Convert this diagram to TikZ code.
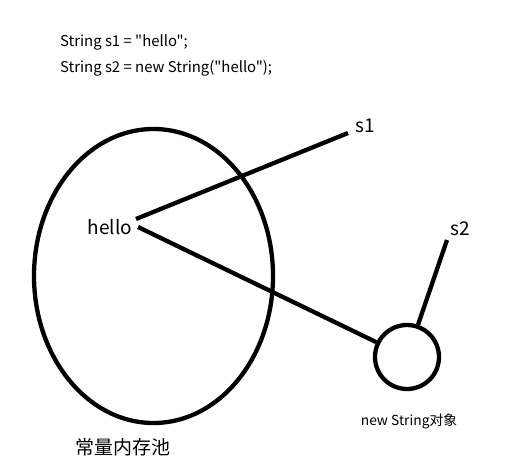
\documentclass[tikz,border=0pt]{standalone}
\usepackage{fontspec}
\setmainfont{Noto Sans CJK SC}
\newfontfamily\codefont{Noto Sans CJK SC}
\usetikzlibrary{shapes.geometric}
\begin{document}
\begin{tikzpicture}[x=1pt,y=-1pt,
  thickline/.style={line width=4.3pt},
  code/.style={anchor=west,inner sep=0pt,font=\codefont\fontsize{14.9}{16}\selectfont},
  lbl/.style={inner sep=0pt,font=\fontsize{19}{22}\selectfont}]
\useasboundingbox[fill=white] (0,0) rectangle (522,473);
\node[code] (c1) at (60,42) {String s1 = "hello";};
\node[code] (c2) at (60,68) {String s2 = new String("hello");};
\node[draw,thickline,ellipse,minimum width=239pt,minimum height=294pt,inner sep=0pt] (pool) at (153.5,276) {};
\node[draw,thickline,circle,minimum size=64pt,inner sep=0pt] (obj) at (407,357) {};
\node[lbl] (hello) at (110,227) {hello};
\node[lbl] (s1) at (365,126) {s1};
\node[lbl] (s2) at (460,229) {s2};
\node[inner sep=0pt,font=\fontsize{19}{22}\selectfont] (poollbl) at (123,447) {常量内存池};
\node[inner sep=0pt,font=\codefont\fontsize{13.8}{15}\selectfont] (objlbl) at (409,421) {new String对象};
\coordinate (h1) at (136,219);
\coordinate (h2) at (138,227);
\coordinate (s1end) at (348,133);
\coordinate (s2end) at (447,240);
\draw[thickline] (h1) -- (s1end);
\draw[thickline] (h2) -- (obj);
\draw[thickline] (obj) -- (s2end);
\end{tikzpicture}
\end{document}
